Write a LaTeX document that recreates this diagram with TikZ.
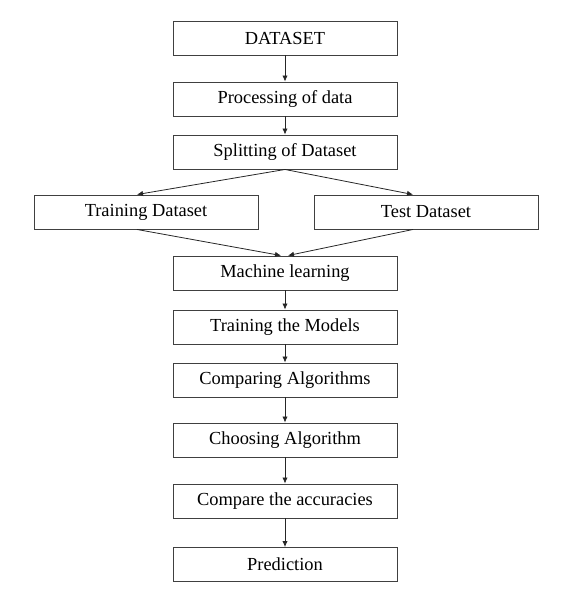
\documentclass[tikz,border=0pt]{standalone}
\usepackage{fontspec}
\setmainfont{Liberation Serif}
\usetikzlibrary{arrows.meta,calc}
\tikzset{
  stage/.style={draw=black!75,line width=0.7pt,minimum width=168pt,minimum height=25.5pt,
    inner sep=0pt,font=\fontsize{13.8}{16}\selectfont},
  flow/.style={-{Latex[length=4.5pt,width=4pt]},line width=0.6pt,draw=black!85}
}
\begin{document}
\begin{tikzpicture}[x=0.75pt,y=-0.75pt]
    \useasboundingbox (0,0) rectangle (581,610);
    %% upper column
    \node[stage] (data) at (285,38) {DATASET};
    \node[stage] (proc) at (285,99) {Processing of data};
    \node[stage] (split) at (285,152) {Splitting of Dataset};
    %% the two halves
    \node[stage] (train) at (146,212) {Training Dataset};
    \node[stage] (test) at (426,212) {Test Dataset};
    %% lower column
    \node[stage] (ml) at (285,273) {Machine learning};
    \node[stage] (models) at (285,327) {Training the Models};
    \node[stage] (cmpalg) at (285,380) {Comparing Algorithms};
    \node[stage] (choose) at (285,440) {Choosing Algorithm};
    \node[stage] (acc) at (285,501) {Compare the accuracies};
    \node[stage] (pred) at (285,564.5) {Prediction};
    %% arrows
    \draw[flow] (data) -- (proc);
    \draw[flow] (proc) -- (split);
    \draw[flow] (split.south) -- ($(train.north)+(-9,0)$);
    \draw[flow] (split.south) -- ($(test.north)+(-13,0)$);
    \draw[flow] ($(train.south)+(-9,0)$) -- ($(ml.north)+(-4,0)$);
    \draw[flow] ($(test.south)+(-13,0)$) -- ($(ml.north)+(3,0)$);
    \draw[flow] (ml) -- (models);
    \draw[flow] (models) -- (cmpalg);
    \draw[flow] (cmpalg) -- (choose);
    \draw[flow] (choose) -- (acc);
    \draw[flow] (acc) -- (pred);
\end{tikzpicture}
\end{document}
